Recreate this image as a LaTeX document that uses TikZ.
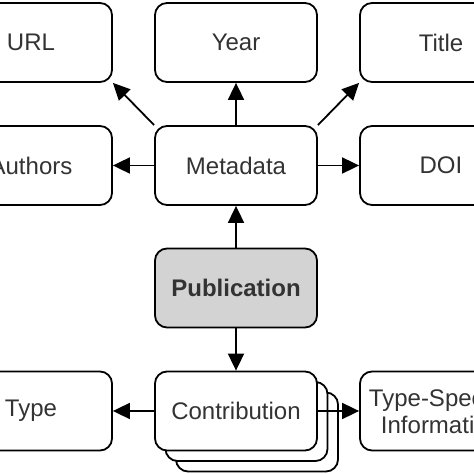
\documentclass[tikz,border=0pt]{standalone}
\usepackage{fontspec}
\setmainfont{Liberation Sans}
\usetikzlibrary{arrows.meta}
\definecolor{txtgray}{HTML}{333333}
\definecolor{pubgray}{HTML}{D3D3D3}

\begin{document}
\begin{tikzpicture}[x=1pt,y=1pt,
    box/.style={draw,fill=white,line width=1.8pt,rounded corners=12pt,
        minimum width=162pt,minimum height=79pt,align=center,
        text=txtgray,font=\fontsize{24}{27}\selectfont},
    link/.style={line width=1.8pt,-{Triangle[length=17pt,width=16pt]}}]
    \clip (0,0) rectangle (474,474);
    % stacked copies behind the contribution box
    \node[box] (contrib3) at (257,42) {};
    \node[box] (contrib2) at (246.5,52.5) {};
    \node[box] (url) at (31,431.5) {URL};
    \node[box] (year) at (236,431.5) {Year};
    \node[box] (title) at (441,431.5) {Title};
    \node[box] (authors) at (31,308.5) {Authors};
    \node[box] (meta) at (236,308.5) {Metadata};
    \node[box] (doi) at (441,308.5) {DOI};
    \node[box,fill=pubgray,font=\fontsize{24}{27}\selectfont\bfseries] (pub) at (236,186) {Publication};
    \node[box] (type) at (31,63) {Type};
    \node[box] (contrib) at (236,63) {Contribution};
    \node[box] (tsi) at (441,63) {Type-Specific\\Information};
    \draw[link] (pub) -- (meta);
    \draw[link] (pub) -- (contrib);
    \draw[link] (meta) -- (year);
    \draw[link] (meta.north west) -- (url.south east);
    \draw[link] (meta.north east) -- (title.south west);
    \draw[link] (meta) -- (authors);
    \draw[link] (meta) -- (doi);
    \draw[link] (contrib) -- (type);
    \draw[link] (contrib.east) -- (tsi.west);
\end{tikzpicture}
\end{document}
